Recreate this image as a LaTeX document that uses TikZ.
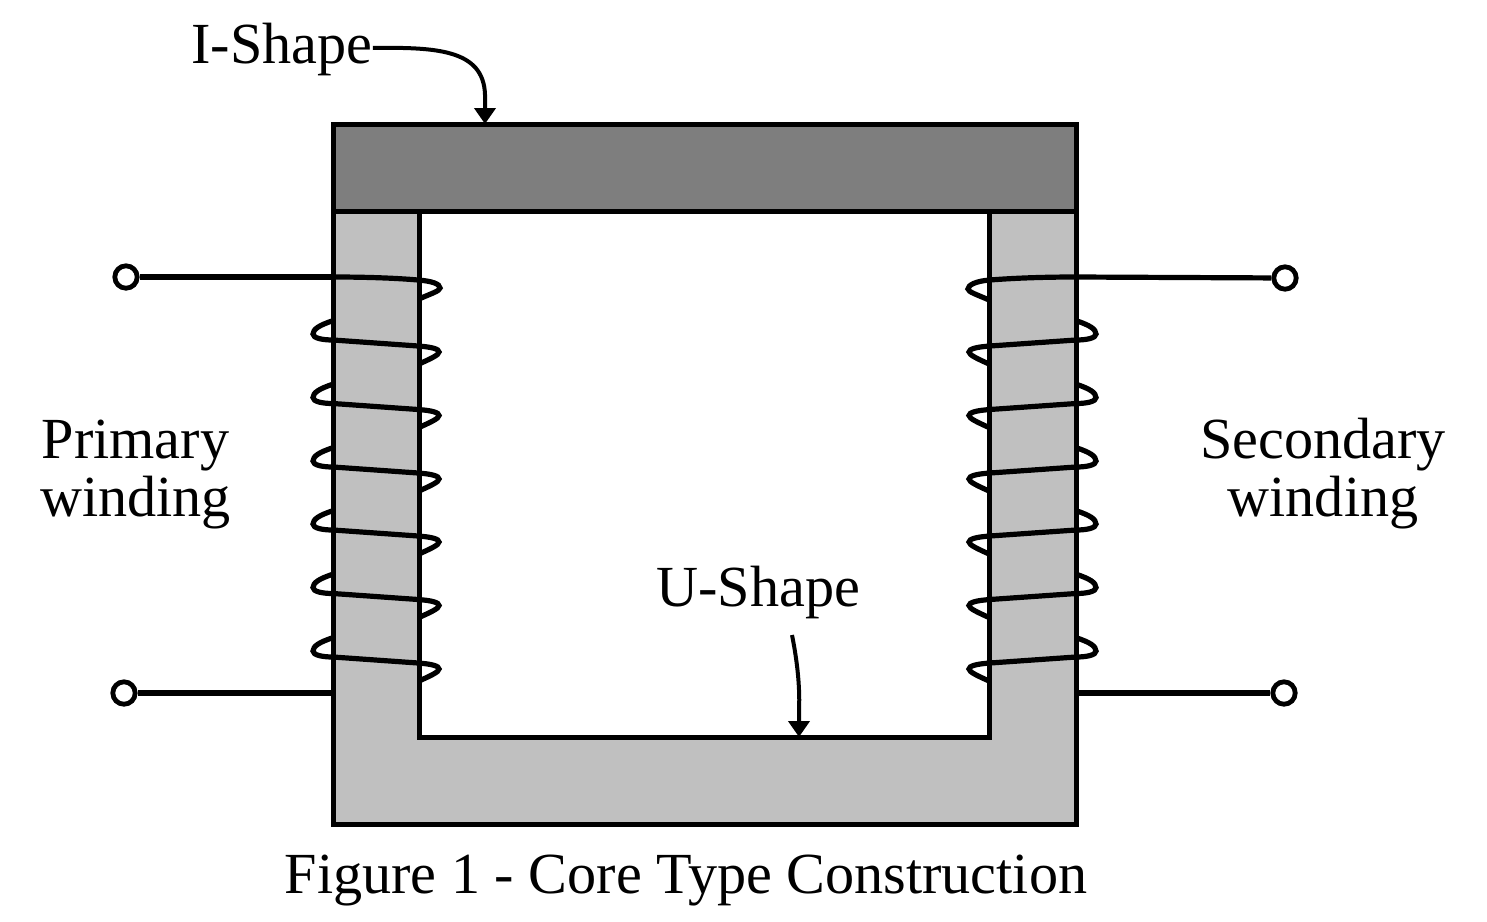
\documentclass[tikz,border=0pt]{standalone}
\usepackage{fontspec}
\setmainfont{Liberation Serif}
\usetikzlibrary{arrows.meta}
\definecolor{ugrey}{HTML}{C0C0C0}
\definecolor{igrey}{HTML}{7E7E7E}
\tikzset{
  core/.style={draw=black,line width=2.5pt,line join=miter},
  wire/.style={draw=black,line width=2.6pt,line cap=butt},
  term/.style={circle,draw=black,fill=white,line width=2.4pt,inner sep=0pt,minimum size=11.2pt},
  lbl/.style={font=\fontsize{29.1}{32}\selectfont,anchor=base,inner sep=0pt},
  pointer/.style={draw=black,line width=2pt,-{Triangle[length=8pt,width=10.5pt]}}
}
\begin{document}
\begin{tikzpicture}[x=0.5pt,y=-0.5pt]
\useasboundingbox (0,0) rectangle (1487,921);
% core
\path[core,fill=ugrey] (333,211) -- (333,824) -- (1076,824) -- (1076,211) -- (989,211) -- (989,737) -- (419,737) -- (419,211) -- cycle;
\path[core,fill=igrey] (333,124) rectangle (1076,211);
% terminals and free ends
\node[term] (t1) at (126,277) {};
\node[term] (t2) at (124,693) {};
\node[term] (t3) at (1285,278) {};
\node[term] (t4) at (1284,693) {};
\coordinate (e1) at (333,277);
\coordinate (e2) at (332,693);
\coordinate (e3) at (1076,277);
\coordinate (e4) at (1077,693);
\draw[wire] (t1) -- (e1);
\draw[wire] (t2) -- (e2);
\draw[wire] (t3) -- (e3);
\draw[wire] (t4) -- (e4);
% first turns
\draw[wire] (e1) .. controls (365,277) and (395,278) .. (418,280) .. controls (432,281) and (440,284) .. (440,288) .. controls (440,291) and (430,294) .. (419,299);
\draw[wire] (e3) .. controls (1045,277) and (1015,278) .. (990,280) .. controls (976,281) and (968,285) .. (968,289) .. controls (968,292) and (978,295) .. (989,300);
% further turns
\foreach \yy in {340,403.5,467,530,593.5,657}{
  \begin{scope}[yshift=-0.5pt*\yy]
  \draw[wire] (332,-19) .. controls (320,-15) and (313,-11) .. (313,-6) .. controls (313,-2) and (322,0) .. (333,0)
     -- (418,6) .. controls (432,7) and (439,9) .. (439,12) .. controls (439,15) and (430,19) .. (419,24);
  \draw[wire] (1077,-19) .. controls (1089,-15) and (1096,-11) .. (1096,-6) .. controls (1096,-2) and (1087,0) .. (1076,0)
     -- (990,6) .. controls (976,7) and (969,9) .. (969,12) .. controls (969,15) and (978,19) .. (989,24);
  \end{scope}
}
% labels
\node[lbl,anchor=base west] (ishape) at (191,63) {I-Shape};
\node[lbl,anchor=base west] (ushape) at (656,606) {U-Shape};
\node[lbl] (prim) at (135.5,458) {Primary};
\node[lbl] (primw) at (135.5,516) {winding};
\node[lbl] (sec) at (1323,458) {Secondary};
\node[lbl] (secw) at (1323,516) {winding};
\node[lbl] (cap) at (686,893) {Figure 1 - Core Type Construction};
\coordinate (itop) at (485,124);
\coordinate (ubot) at (799,737);
\draw[pointer] (ishape.east |- 0,48) .. controls (440,47) and (487,50) .. (485,100) -- (itop);
\draw[pointer] (792,635) .. controls (798,665) and (800,690) .. (799,712) -- (ubot);
\end{tikzpicture}
\end{document}
